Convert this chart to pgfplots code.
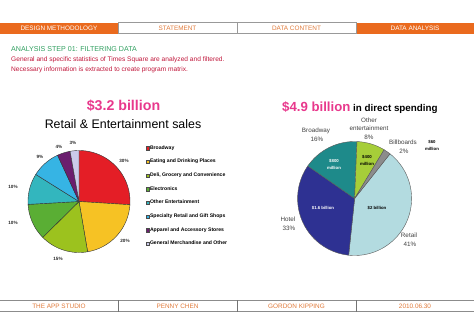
\documentclass[border=0pt]{standalone}
\usepackage{pgfplots}
\pgfplotsset{compat=1.18}
\usepackage{fontspec}
\setmainfont{Liberation Sans}
\definecolor{hdor}{HTML}{EA6A1E}
\definecolor{txor}{HTML}{E07A3A}
\definecolor{stgreen}{HTML}{2E9E5E}
\definecolor{stred}{HTML}{C0163A}
\definecolor{mag}{HTML}{E8388C}
\definecolor{cRed}{HTML}{E41E26}
\definecolor{cYel}{HTML}{F6C224}
\definecolor{cGrn}{HTML}{9CC21E}
\definecolor{cDgr}{HTML}{5AAE34}
\definecolor{cTea}{HTML}{33B6BE}
\definecolor{cBlu}{HTML}{36B4E4}
\definecolor{cPur}{HTML}{6B1E6E}
\definecolor{cLav}{HTML}{CBCBEA}
\definecolor{rRet}{HTML}{B3DBE0}
\definecolor{rHot}{HTML}{2E3192}
\definecolor{rBro}{HTML}{1E8A8A}
\definecolor{rOth}{HTML}{A6CE39}
\definecolor{rBil}{HTML}{8C8C8C}
% slice: start angle, cumulative start %, cumulative end %, colour
\newcommand{\slice}[4]{%
  \addplot[fill=#4, draw=black!80, line width=0.4pt, domain=#1-3.6*#3:#1-3.6*#2, samples=60]
    ({cos(x)},{sin(x)}) -- (axis cs:0,0) -- cycle;}
\newcommand{\rslice}[4]{%
  \addplot[fill=#4, draw=black!65, line width=0.4pt, domain=#1-3.6*#3:#1-3.6*#2, samples=60]
    ({cos(x)},{sin(x)}) -- (axis cs:0,0) -- cycle;}
\newcommand{\fs}[1]{\fontsize{#1}{#1}\selectfont}
\begin{document}
\begin{tikzpicture}[x=1pt,y=-1pt]
\path[use as bounding box] (0,0) rectangle (474,335);
% header bar
\fill[hdor] (0,22.5) rectangle (118,33.7);
\fill[hdor] (356,22.5) rectangle (474,33.7);
\draw[black!40, line width=0.8pt] (118,22.5) rectangle (237,33.7) (237,22.5) rectangle (356,33.7);
\node[font=\fs{6.4}, text=white] at (59,28.3) {DESIGN METHODOLOGY};
\node[font=\fs{6.4}, text=txor] at (177.5,28.3) {STATEMENT};
\node[font=\fs{6.4}, text=txor] at (296.5,28.3) {DATA CONTENT};
\node[font=\fs{6.4}, text=white] at (415,28.3) {DATA ANALYSIS};
% intro text
\node[font=\fs{7.1}, text=stgreen, anchor=west, inner sep=0] at (11,49.3) {ANALYSIS STEP 01: FILTERING DATA};
\node[font=\fs{6.6}, text=stred, anchor=west, inner sep=0] at (11,59.3) {General and specific statistics of Times Square are analyzed and filtered.};
\node[font=\fs{6.6}, text=stred, anchor=west, inner sep=0] at (11,69.3) {Necessary information is extracted to create program matrix.};
% left titles
\node[font=\fs{14.2}\bfseries, text=mag] at (123.5,106) {\$3.2 billion};
\node[font=\fs{12.4}] at (123,124) {Retail \& Entertainment sales};
% left pie
\begin{axis}[at={(79pt,-201.5pt)}, anchor=center, width=102pt, height=102pt, scale only axis,
  xmin=-1, xmax=1, ymin=-1, ymax=1, hide axis, clip=false,
  legend cell align=left,
  legend style={at={(1.15,1.06)}, anchor=north west, draw=none, fill=none,
    font=\fs{5.1}\bfseries, row sep=6.9pt, inner sep=0pt,
    nodes={inner sep=0.8pt}},
  legend image code/.code={\draw[#1, draw=black!70, line width=0.3pt] (0pt,-1.7pt) rectangle (3.4pt,1.7pt);}]
\slice{90}{0}{26}{cRed}\addlegendentry{Broadway}
\slice{90}{26}{47.3}{cYel}\addlegendentry{Eating and Drinking Places}
\slice{90}{47.3}{62.6}{cGrn}\addlegendentry{Deli, Grocery and Convenience}
\slice{90}{62.6}{74.1}{cDgr}\addlegendentry{Electronics}
\slice{90}{74.1}{83.9}{cTea}\addlegendentry{Other Entertainment}
\slice{90}{83.9}{93.1}{cBlu}\addlegendentry{Specialty Retail and Gift Shops}
\slice{90}{93.1}{97.2}{cPur}\addlegendentry{Apparel and Accessory Stores}
\slice{90}{97.2}{100}{cLav}\addlegendentry{General Merchandise and Other}
\end{axis}
% left pie labels
\begin{scope}[every node/.style={font=\fs{4.6}\bfseries, text=black!85}]
\node at (124,161) {30\%};
\node at (125,240.5) {20\%};
\node at (58,258.5) {15\%};
\node at (13,223) {10\%};
\node at (13,187) {10\%};
\node at (40,157) {9\%};
\node at (59,147) {4\%};
\node at (73,143) {3\%};
\end{scope}
% right title
\node[anchor=base west, inner sep=0, font=\fs{13.2}\bfseries, text=mag] at (282,111.5) {\$4.9 billion};
\node[anchor=base west, inner sep=0, font=\fs{9.8}\bfseries] at (353,111.5) {in direct spending};
% right pie
\begin{axis}[at={(354.6pt,-198.5pt)}, anchor=center, width=114pt, height=114pt, scale only axis,
  xmin=-1, xmax=1, ymin=-1, ymax=1, hide axis, clip=false]
\rslice{51.6}{0}{41}{rRet}
\rslice{51.6}{41}{74}{rHot}
\rslice{51.6}{74}{90}{rBro}
\rslice{51.6}{90}{98}{rOth}
\rslice{51.6}{98}{100}{rBil}
\end{axis}
% right pie labels
\begin{scope}[every node/.style={font=\fs{6.3}, text=black!75, align=center, inner sep=0}]
\node at (316,131) {Broadway};
\node at (317,139.5) {16\%};
\node at (369,120) {Other};
\node at (369,128.5) {entertainment};
\node at (369,137) {8\%};
\node at (403,142.5) {Billboards};
\node at (404,151) {2\%};
\node at (288,219) {Hotel};
\node at (289,228) {33\%};
\node at (409,235) {Retail};
\node at (410,244) {41\%};
\end{scope}
\begin{scope}[every node/.style={font=\fs{4.3}\bfseries, align=center, inner sep=0}]
\node at (432,142) {\$60};
\node at (432,148.5) {million};
\node[text=white] at (334,161) {\$800};
\node[text=white] at (334,168) {million};
\node at (367,157) {\$400};
\node at (367,164) {million};
\node[text=white] at (323,208) {\$1.6 billion};
\node at (377,208.5) {\$2 billion};
\end{scope}
% footer
\draw[black!45, line width=0.8pt] (0,300.3) -- (474,300.3) (0,311.7) -- (474,311.7);
\draw[black!55, line width=0.7pt] (118,300.3) -- (118,311.7) (237,300.3) -- (237,311.7) (356,300.3) -- (356,311.7);
\node[font=\fs{6.4}, text=txor] at (59,306.2) {THE APP STUDIO};
\node[font=\fs{6.4}, text=txor] at (177.5,306.2) {PENNY CHEN};
\node[font=\fs{6.4}, text=txor] at (296.5,306.2) {GORDON KIPPING};
\node[font=\fs{6.4}, text=txor] at (415,306.2) {2010.06.30};
\end{tikzpicture}
\end{document}
